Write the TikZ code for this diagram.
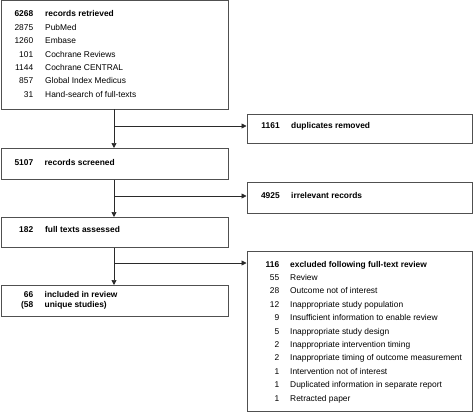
\documentclass[tikz,border=0pt]{standalone}
\usepackage{fontspec}
\setmainfont{Liberation Sans}
\usetikzlibrary{arrows.meta}
\definecolor{boxline}{HTML}{505050}
\definecolor{conn}{HTML}{2A2A2A}
\newcommand{\nm}[1]{\makebox[24pt][r]{#1}}
\tikzset{
  box/.style={draw=boxline, line width=0.9pt, fill=white, inner sep=0pt, anchor=north west},
  txt/.style={inner sep=0pt, anchor=base west, font=\fontsize{8.4}{13.4}\selectfont},
  txttight/.style={inner sep=0pt, anchor=base west, font=\fontsize{8.4}{10.5}\selectfont},
  conn/.style={draw=conn, line width=0.7pt},
  arr/.style={conn, -{Triangle[length=5pt,width=5pt]}}
}
\begin{document}
\begin{tikzpicture}[x=1pt,y=-1pt]
\useasboundingbox (0,0) rectangle (474,412);
\fill[white] (0,0) rectangle (474,412);
% left column boxes
\node[box, minimum width=226.5pt, minimum height=108pt] (retr) at (1,0.5) {};
\node[box, minimum width=226.5pt, minimum height=31pt] (scr) at (1,148) {};
\node[box, minimum width=226.5pt, minimum height=30pt] (full) at (1,217) {};
\node[box, minimum width=226.5pt, minimum height=31pt] (incl) at (1,285) {};
% right column boxes
\node[box, minimum width=225.5pt, minimum height=29pt] (dup) at (246.5,114) {};
\node[box, minimum width=225.5pt, minimum height=31pt] (irr) at (246.5,182) {};
\node[box, minimum width=225.5pt, minimum height=160pt] (exc) at (246.5,251) {};
% texts
\node[txt] (retrT) at (9,17) {\begin{tabular}[t]{@{}l@{\hspace{12pt}}l@{}}
\textbf{\nm{6268}} & \textbf{records retrieved}\\
\nm{2875} & PubMed\\
\nm{1260} & Embase\\
\nm{101} & Cochrane Reviews\\
\nm{1144} & Cochrane CENTRAL\\
\nm{857} & Global Index Medicus\\
\nm{31} & Hand-search of full-texts
\end{tabular}};
\node[txt] (scrT) at (9,165) {\begin{tabular}[t]{@{}l@{\hspace{11.5pt}}l@{}}
\textbf{\nm{5107}} & \textbf{records screened}
\end{tabular}};
\node[txt] (fullT) at (9,232.5) {\begin{tabular}[t]{@{}l@{\hspace{12pt}}l@{}}
\textbf{\nm{182}} & \textbf{full texts assessed}
\end{tabular}};
\node[txttight] (inclT) at (9,297) {\begin{tabular}[t]{@{}l@{\hspace{11.5pt}}l@{}}
\textbf{\nm{66}} & \textbf{included in review}\\
\textbf{\nm{(58}} & \textbf{unique studies)}
\end{tabular}};
\node[txt] (dupT) at (255.5,128.5) {\begin{tabular}[t]{@{}l@{\hspace{11.5pt}}l@{}}
\textbf{\nm{1161}} & \textbf{duplicates removed}
\end{tabular}};
\node[txt] (irrT) at (255.5,198) {\begin{tabular}[t]{@{}l@{\hspace{11.5pt}}l@{}}
\textbf{\nm{4925}} & \textbf{irrelevant records}
\end{tabular}};
\node[txt] (excT) at (255,267) {\begin{tabular}[t]{@{}l@{\hspace{11pt}}l@{}}
\textbf{\nm{116}} & \textbf{excluded following full-text review}\\
\nm{55} & Review\\
\nm{28} & Outcome not of interest\\
\nm{12} & Inappropriate study population\\
\nm{9} & Insufficient information to enable review\\
\nm{5} & Inappropriate study design\\
\nm{2} & Inappropriate intervention timing\\
\nm{2} & Inappropriate timing of outcome measurement\\
\nm{1} & Intervention not of interest\\
\nm{1} & Duplicated information in separate report\\
\nm{1} & Retracted paper
\end{tabular}};
% connectors
\coordinate (b1) at (114,126);
\coordinate (b2) at (114,196);
\coordinate (b3) at (114,263);
\draw[arr] (retr.south -| b1) -- (scr.north -| b1);
\draw[arr] (scr.south -| b2) -- (full.north -| b2);
\draw[arr] (full.south -| b3) -- (incl.north -| b3);
\draw[arr] (b1) -- (dup.west |- b1);
\draw[arr] (b2) -- (irr.west |- b2);
\draw[arr] (b3) -- (exc.west |- b3);
\end{tikzpicture}
\end{document}
